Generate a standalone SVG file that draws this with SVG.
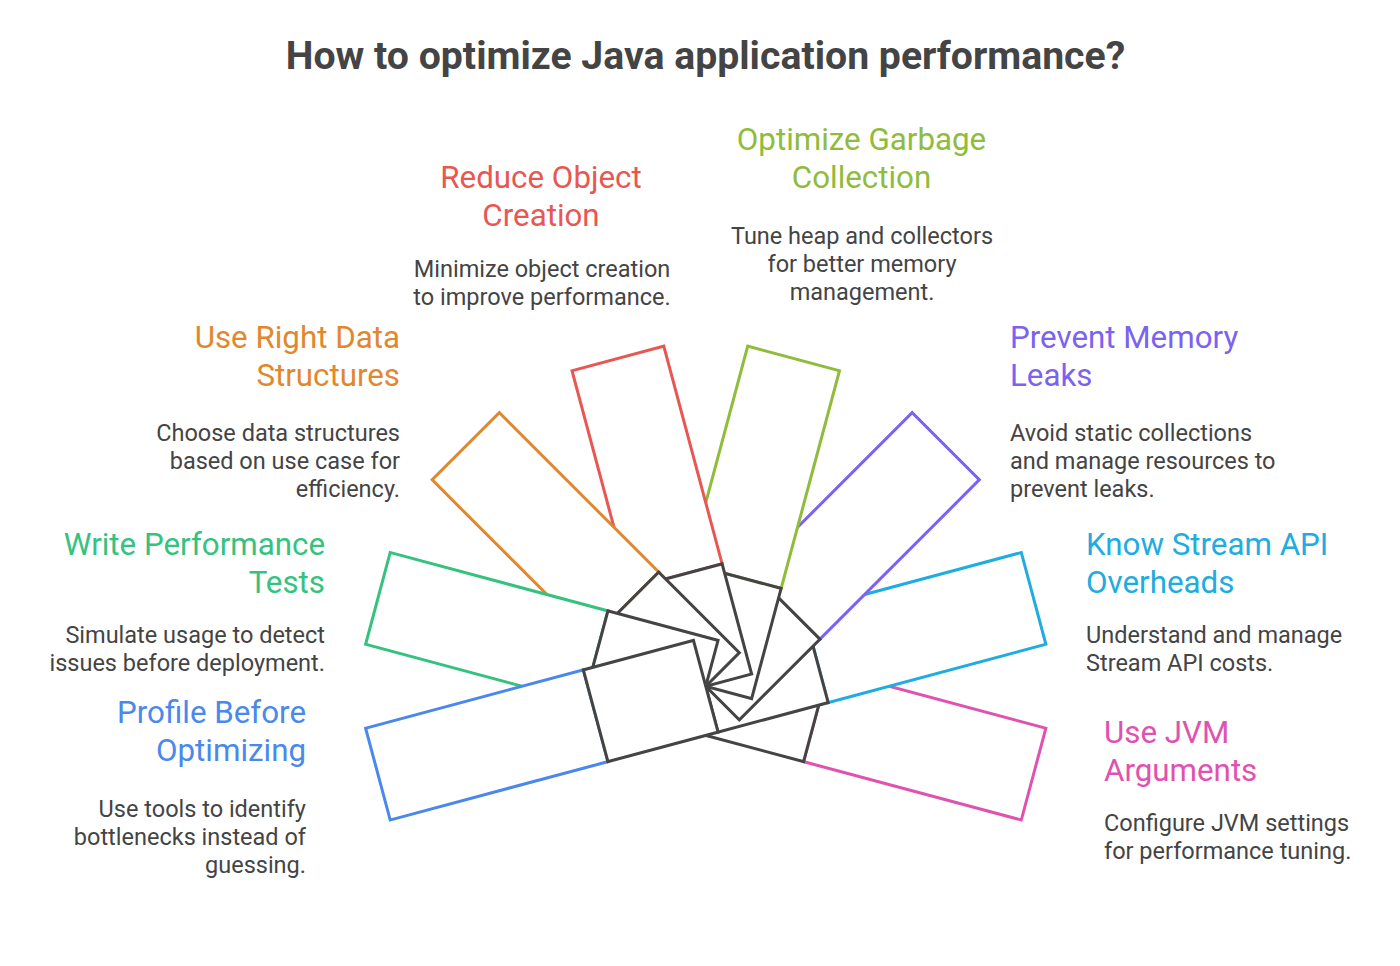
<svg xmlns="http://www.w3.org/2000/svg" width="1400" height="966" viewBox="0 0 1400 966">
<style>
  .blade-in { fill: #ffffff; stroke: #444444; stroke-width: 3; stroke-linejoin: miter; }
  .blade-out { fill: #ffffff; stroke-width: 3; stroke-linejoin: miter; }
  .title { font-family: Roboto, "Liberation Sans", sans-serif; font-weight: 700; font-size: 39.2px; fill: #444444; }
  .head { font-family: Roboto, "Liberation Sans", sans-serif; font-size: 31.3px; }
  .desc { font-family: Roboto, "Liberation Sans", sans-serif; font-size: 23.5px; fill: #444444; }
</style>
<rect x="0" y="0" width="1400" height="966" fill="#ffffff"/>
<text class="title" x="705.5" y="68.5" text-anchor="middle">How to optimize Java application performance?</text>

<g id="node-jvm-arguments">
  <g transform="translate(705.75 686.25) rotate(15)">
    <rect class="blade-out" x="114" y="-47.5" width="225.4" height="95" stroke="#e052b0"/>
    <rect class="blade-in" x="0" y="-47.5" width="114" height="95"/>
  </g>
  <text class="head" fill="#e052b0" x="1104" text-anchor="start"><tspan x="1104" y="743">Use JVM</tspan><tspan x="1104" y="781">Arguments</tspan></text>
  <text class="desc" x="1104" text-anchor="start"><tspan x="1104" y="831">Configure JVM settings</tspan><tspan x="1104" y="859">for performance tuning.</tspan></text>
</g>

<g id="node-stream-api">
  <g transform="translate(705.75 686.25) rotate(345)">
    <rect class="blade-out" x="114" y="-47.5" width="225.4" height="95" stroke="#20ace0"/>
    <rect class="blade-in" x="0" y="-47.5" width="114" height="95"/>
  </g>
  <text class="head" fill="#20ace0" x="1086" text-anchor="start"><tspan x="1086" y="555">Know Stream API</tspan><tspan x="1086" y="593">Overheads</tspan></text>
  <text class="desc" x="1086" text-anchor="start"><tspan x="1086" y="643">Understand and manage</tspan><tspan x="1086" y="671">Stream API costs.</tspan></text>
</g>

<g id="node-memory-leaks">
  <g transform="translate(705.75 686.25) rotate(315)">
    <rect class="blade-out" x="114" y="-47.5" width="225.4" height="95" stroke="#7b62f0"/>
    <rect class="blade-in" x="0" y="-47.5" width="114" height="95"/>
  </g>
  <text class="head" fill="#7b62f0" x="1010" text-anchor="start"><tspan x="1010" y="348">Prevent Memory</tspan><tspan x="1010" y="386">Leaks</tspan></text>
  <text class="desc" x="1010" text-anchor="start"><tspan x="1010" y="441">Avoid static collections</tspan><tspan x="1010" y="469">and manage resources to</tspan><tspan x="1010" y="497">prevent leaks.</tspan></text>
</g>

<g id="node-garbage-collection">
  <g transform="translate(705.75 686.25) rotate(285)">
    <rect class="blade-out" x="114" y="-47.5" width="225.4" height="95" stroke="#8fbc3b"/>
    <rect class="blade-in" x="0" y="-47.5" width="114" height="95"/>
  </g>
  <text class="head" fill="#8fbc3b" x="861.5" text-anchor="middle"><tspan x="861.5" y="150">Optimize Garbage</tspan><tspan x="861.5" y="188">Collection</tspan></text>
  <text class="desc" x="862" text-anchor="middle"><tspan x="862" y="244">Tune heap and collectors</tspan><tspan x="862" y="272">for better memory</tspan><tspan x="862" y="300">management.</tspan></text>
</g>

<g id="node-object-creation">
  <g transform="translate(705.75 686.25) rotate(255)">
    <rect class="blade-out" x="114" y="-47.5" width="225.4" height="95" stroke="#e85752"/>
    <rect class="blade-in" x="0" y="-47.5" width="114" height="95"/>
  </g>
  <text class="head" fill="#e85752" x="541" text-anchor="middle"><tspan x="541" y="188">Reduce Object</tspan><tspan x="541" y="226">Creation</tspan></text>
  <text class="desc" x="542" text-anchor="middle"><tspan x="542" y="277">Minimize object creation</tspan><tspan x="542" y="305">to improve performance.</tspan></text>
</g>

<g id="node-data-structures">
  <g transform="translate(705.75 686.25) rotate(225)">
    <rect class="blade-out" x="114" y="-47.5" width="225.4" height="95" stroke="#e3872d"/>
    <rect class="blade-in" x="0" y="-47.5" width="114" height="95"/>
  </g>
  <text class="head" fill="#e3872d" x="400" text-anchor="end"><tspan x="400" y="348">Use Right Data</tspan><tspan x="400" y="386">Structures</tspan></text>
  <text class="desc" x="400" text-anchor="end"><tspan x="400" y="441">Choose data structures</tspan><tspan x="400" y="469">based on use case for</tspan><tspan x="400" y="497">efficiency.</tspan></text>
</g>

<g id="node-performance-tests">
  <g transform="translate(705.75 686.25) rotate(195)">
    <rect class="blade-out" x="114" y="-47.5" width="225.4" height="95" stroke="#35c27f"/>
    <rect class="blade-in" x="0" y="-47.5" width="114" height="95"/>
  </g>
  <text class="head" fill="#35c27f" x="325" text-anchor="end"><tspan x="325" y="555">Write Performance</tspan><tspan x="325" y="593">Tests</tspan></text>
  <text class="desc" x="325" text-anchor="end"><tspan x="325" y="643">Simulate usage to detect</tspan><tspan x="325" y="671">issues before deployment.</tspan></text>
</g>

<g id="node-profile">
  <g transform="translate(705.75 686.25) rotate(165)">
    <rect class="blade-out" x="114" y="-47.5" width="225.4" height="95" stroke="#4a88ec"/>
    <rect class="blade-in" x="0" y="-47.5" width="114" height="95"/>
  </g>
  <text class="head" fill="#4a88ec" x="306" text-anchor="end"><tspan x="306" y="723">Profile Before</tspan><tspan x="306" y="761">Optimizing</tspan></text>
  <text class="desc" x="306" text-anchor="end"><tspan x="306" y="817">Use tools to identify</tspan><tspan x="306" y="845">bottlenecks instead of</tspan><tspan x="306" y="873">guessing.</tspan></text>
</g>

<g id="connectors"></g>
</svg>
